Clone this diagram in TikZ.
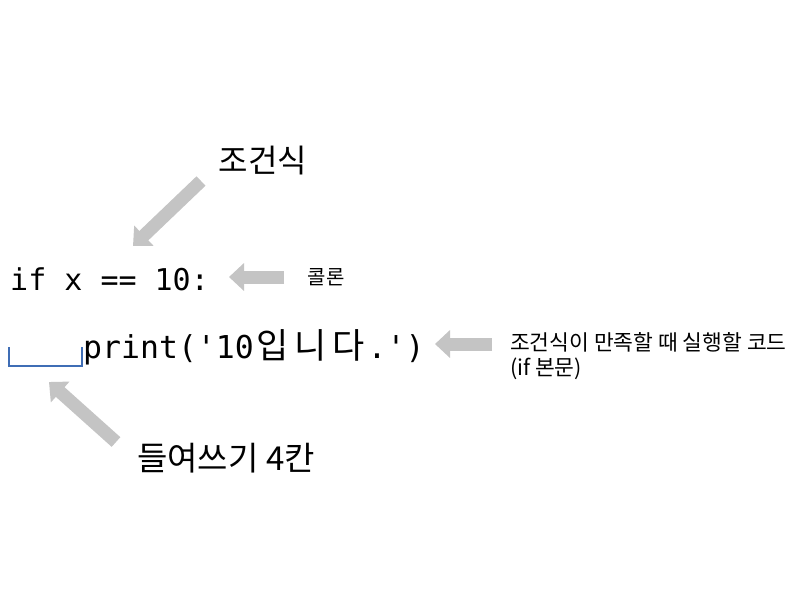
\documentclass[tikz,border=0pt]{standalone}
\usepackage{fontspec}
\setmainfont{Noto Sans CJK KR}
\newfontfamily\krfont{Noto Sans CJK KR}
\newfontfamily\codefont{DejaVu Sans Mono}
\usetikzlibrary{arrows.meta}
\definecolor{arrowgray}{HTML}{C4C4C4}
\definecolor{indentblue}{HTML}{3F6DB5}
\newcommand\hg[1]{\makebox[1.204em][c]{\krfont\fontsize{35}{36}\selectfont #1}}
\tikzset{
  grayarrow/.style={draw=arrowgray, line width=13pt, -{Triangle[width=27pt,length=15pt]}},
  lbl/.style={inner sep=0pt, font=\krfont},
  code/.style={inner sep=0pt, anchor=base west, font=\codefont},
}
\begin{document}
\begin{tikzpicture}[x=1pt,y=-1pt]
\fill[white] (0,0) rectangle (800,600);
\useasboundingbox (0,0) rectangle (800,600);
% labels
\node[lbl, font=\krfont\fontsize{32}{36}\selectfont] (cond) at (263,161) {조건식};
\node[lbl, font=\krfont\fontsize{20}{22}\selectfont] (colon) at (326,277) {콜론};
\node[lbl, font=\krfont\fontsize{21.5}{25}\selectfont, anchor=west, align=left] (body) at (510,356) {조건식이 만족할 때 실행할 코드\\(if 본문)};
\node[lbl, font=\krfont\fontsize{33}{36}\selectfont] (indent) at (226,458) {들여쓰기 4칸};
% code
\node[code, font=\codefont\fontsize{30}{36}\selectfont] (line1) at (10,290) {if x == 10:};
\node[code, font=\codefont\fontsize{31.5}{36}\selectfont] (line2) at (83,358) {print('10\hg{입}\hg{니}\hg{다}.')};
% indentation bracket
\coordinate (b1) at (9,347);
\coordinate (b2) at (9,366);
\coordinate (b3) at (82,366);
\coordinate (b4) at (82,347);
\draw[indentblue, line width=1.6pt] (b1) -- (b2) -- (b3) -- (b4);
% arrow coordinates
\coordinate (a1s) at (201,181);
\coordinate (a1e) at (133,246);
\coordinate (a2s) at (284,277);
\coordinate (a2e) at (229,277);
\coordinate (a3s) at (492,344);
\coordinate (a3e) at (435,344);
\coordinate (a4s) at (116,442);
\coordinate (a4e) at (49,382);
\draw[grayarrow] (a1s) -- (a1e);
\draw[grayarrow] (a2s) -- (a2e);
\draw[grayarrow] (a3s) -- (a3e);
\draw[grayarrow] (a4s) -- (a4e);
\end{tikzpicture}
\end{document}
